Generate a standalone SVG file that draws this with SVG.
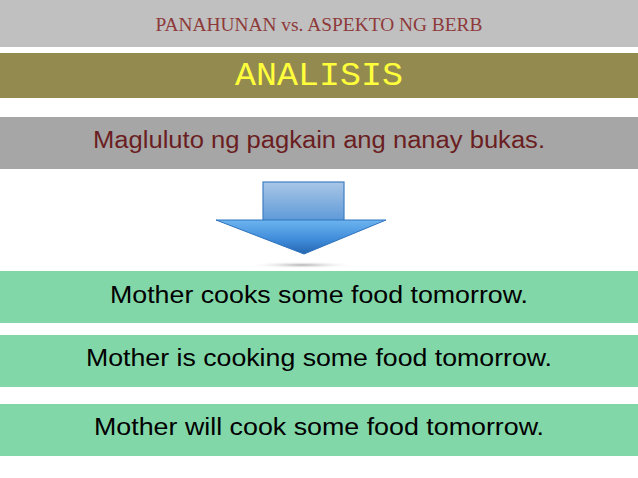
<svg xmlns="http://www.w3.org/2000/svg" width="638" height="478" viewBox="0 0 638 478">
<defs>
<style>
.bar-text{font-family:"Liberation Sans",Arial,sans-serif;font-size:23px;text-anchor:middle}
.green{fill:#82d7a9}
</style>
<linearGradient id="shaft" x1="0" y1="0" x2="0" y2="1">
<stop offset="0" stop-color="#a9c6e6"/>
<stop offset="1" stop-color="#5b98d8"/>
</linearGradient>
<linearGradient id="head" x1="0" y1="0" x2="0" y2="1">
<stop offset="0" stop-color="#6cb4f0"/>
<stop offset="0.6" stop-color="#3e8ad8"/>
<stop offset="1" stop-color="#2566b0"/>
</linearGradient>
<radialGradient id="shadow" cx="0.5" cy="0.5" r="0.5">
<stop offset="0" stop-color="#b0b0b0"/>
<stop offset="1" stop-color="#ffffff" stop-opacity="0"/>
</radialGradient>
</defs>
<rect width="638" height="478" fill="#ffffff"/>
<g id="title">
<rect x="0" y="0" width="638" height="47" fill="#c0c0c0"/>
<text x="319" y="31" font-family="Liberation Serif,'Times New Roman',serif" font-size="18.5" fill="#8e3a3a" text-anchor="middle" textLength="327" lengthAdjust="spacingAndGlyphs">PANAHUNAN vs. ASPEKTO NG BERB</text>
</g>
<g id="analisis">
<rect x="0" y="53" width="638" height="45" fill="#938a4f"/>
<text x="319" y="85" font-family="'Liberation Mono','Courier New',monospace" font-size="33" fill="#ffff3c" text-anchor="middle" textLength="168" lengthAdjust="spacingAndGlyphs">ANALISIS</text>
</g>
<g id="sentence">
<rect x="0" y="117" width="638" height="52" fill="#a6a6a6"/>
<text class="bar-text" x="319" y="148" fill="#6a1e22" textLength="452" lengthAdjust="spacingAndGlyphs">Magluluto ng pagkain ang nanay bukas.</text>
</g>
<g id="arrow">
<ellipse cx="302" cy="265" rx="54" ry="3.5" fill="url(#shadow)"/>
<rect x="263" y="182" width="81" height="40" fill="url(#shaft)" stroke="#3f7fc4" stroke-width="1.2"/>
<polygon points="216,220 386,220 304,254" fill="url(#head)" stroke="#2e73bd" stroke-width="1"/>
</g>
<g id="option1">
<rect class="green" x="0" y="271" width="638" height="52"/>
<text class="bar-text" x="319" y="303" fill="#000" textLength="418" lengthAdjust="spacingAndGlyphs">Mother cooks some food tomorrow.</text>
</g>
<g id="option2">
<rect class="green" x="0" y="335" width="638" height="52"/>
<text class="bar-text" x="319" y="366" fill="#000" textLength="466" lengthAdjust="spacingAndGlyphs">Mother is cooking some food tomorrow.</text>
</g>
<g id="option3">
<rect class="green" x="0" y="404" width="638" height="52"/>
<text class="bar-text" x="319" y="435" fill="#000" textLength="450" lengthAdjust="spacingAndGlyphs">Mother will cook some food tomorrow.</text>
</g>
<g id="connectors"></g>
</svg>
